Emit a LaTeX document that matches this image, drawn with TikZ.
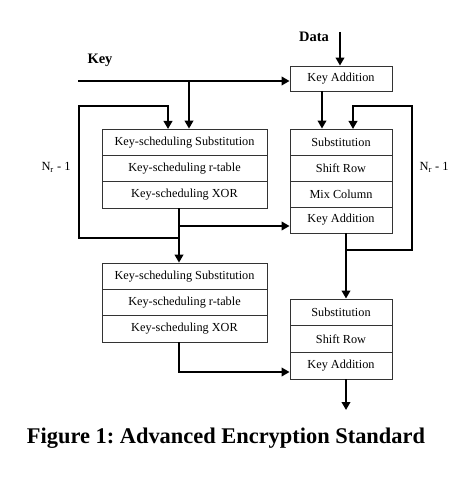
\documentclass[tikz,border=0pt]{standalone}
\usepackage{fontspec}
\setmainfont{Liberation Serif}
\usetikzlibrary{arrows.meta}
\frenchspacing
\begin{document}
\begin{tikzpicture}[x=1bp,y=-1bp,
  cell/.style={draw=black!80, line width=0.8bp, fill=white, inner sep=0pt, font=\fontsize{12.3}{13}\selectfont},
  lcell/.style={cell, minimum width=165bp, minimum height=26.3bp},
  rcell/.style={cell, minimum width=102bp, minimum height=26bp},
  rcellb/.style={cell, minimum width=102bp, minimum height=26.7bp},
  flow/.style={line width=2.8bp, -{Triangle[length=8bp,width=8.5bp]}},
  lbl/.style={font=\bfseries\fontsize{14.5}{16}\selectfont},
  nr/.style={font=\fontsize{12.5}{13}\selectfont},
  ]
\useasboundingbox (0,0) rectangle (474,479);

% top key addition
\node[rcell, minimum height=25bp] (kat) at (341,78.5) {Key Addition};

% first key schedule block
\node[lcell] (la) at (184.5,142.2) {Key-scheduling Substitution};
\node[lcell] (lb) at (184.5,168.5) {Key-scheduling r-table};
\node[lcell] (lc) at (184.5,194.8) {Key-scheduling XOR};

% first round block
\node[rcell] (ra) at (341,142) {Substitution};
\node[rcell] (rb) at (341,168) {Shift Row};
\node[rcell] (rc) at (341,194) {Mix Column};
\node[rcell] (rd) at (341,220) {Key Addition};

% second key schedule block
\node[lcell] (ma) at (184.5,276.2) {Key-scheduling Substitution};
\node[lcell] (mb) at (184.5,302.5) {Key-scheduling r-table};
\node[lcell] (mc) at (184.5,328.8) {Key-scheduling XOR};

% final round block
\node[rcellb] (sa) at (341,312.3) {Substitution};
\node[rcellb] (sb) at (341,339) {Shift Row};
\node[rcellb] (sc) at (341,365.7) {Key Addition};

% labels
\node[lbl] (key) at (100,60) {Key};
\node[lbl] (data) at (314,37) {Data};
\node[nr] (nl) at (56,167) {N\textsubscript{r} - 1};
\node[nr] (nrr) at (434,167) {N\textsubscript{r} - 1};
\node[font=\bfseries\fontsize{22.5}{24}\selectfont] (cap) at (226,438) {Figure 1: Advanced Encryption Standard};

% coordinates
\coordinate (kin) at (78,81);
\coordinate (kbr) at (189,81);
\coordinate (din) at (340,32);
\coordinate (lsplit) at (179,226);
\coordinate (lloop) at (179,238);
\coordinate (rloop) at (346,250);
\coordinate (mout) at (179,372);
\coordinate (out) at (346,410);

% key input
\draw[flow] (kin) -- (kin -| kat.west);
\draw[flow] (kbr) -- (kbr |- la.north);
% data input
\draw[flow] (din) -- (din |- kat.north);
% key addition into round
\draw[flow] ([xshift=-19bp]kat.south) -- ([xshift=-19bp]ra.north);
% key schedule output
\draw[flow] (lc.south -| lsplit) -- (lsplit |- ma.north);
\draw[flow] (lsplit) -- (lsplit -| rd.west);
% left loop
\draw[flow] (lloop) -- (79,238) -- (79,106) -- (168,106) -- (168,129);
% round output
\draw[flow] (rd.south -| rloop) -- (rloop |- sa.north);
% right loop
\draw[flow] (rloop) -- (412,250) -- (412,106) -- (353,106) -- (353,129);
% second key schedule output
\draw[flow] (mc.south -| mout) -- (mout) -- (mout -| sc.west);
% final output
\draw[flow] (sc.south -| out) -- (out);
\end{tikzpicture}
\end{document}
